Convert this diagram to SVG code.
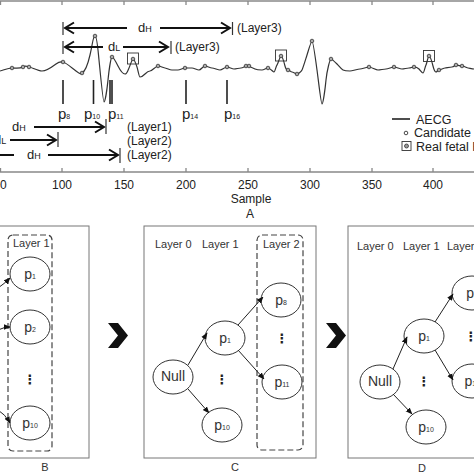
<svg xmlns="http://www.w3.org/2000/svg" width="474" height="474" viewBox="0 0 474 474">
<style>
text{font-family:"Liberation Sans",Arial,sans-serif;fill:#222}
.tick{font-size:12px;fill:#444}
.lab{font-size:12px;fill:#222}
.ax{stroke:#888;stroke-width:1.3;fill:none}
.ecg{stroke:#333;stroke-width:1.2;fill:none}
.cand{fill:#aaa;stroke:#333;stroke-width:0.8}
.box{fill:none;stroke:#333;stroke-width:0.9}
.arr{stroke:#111;stroke-width:2;fill:none}
.bar{stroke:#333;stroke-width:1.2}
.mk{stroke:#222;stroke-width:1.6}
.frame{fill:#fff;stroke:#777;stroke-width:1}
.dash{fill:none;stroke:#444;stroke-width:1.2;stroke-dasharray:6 3}
.node{fill:#fff;stroke:#333;stroke-width:1}
.edge{stroke:#222;stroke-width:1;fill:none;marker-end:url(#ah)}
.nt{font-size:14px;text-anchor:middle;fill:#333}
.dots{font-family:"DejaVu Sans",sans-serif;font-size:13px;font-weight:bold;text-anchor:middle;fill:#222}
.lt{font-size:11px;fill:#333}
</style>
<defs>
<marker id="ah" viewBox="0 0 10 10" refX="9" refY="5" markerWidth="7" markerHeight="7" orient="auto" markerUnits="userSpaceOnUse">
<path d="M0,1 L10,5 L0,9 z" fill="#111"/>
</marker>
</defs>
<rect width="474" height="474" fill="#fff"/>

<g id="plotA">
<line class="ax" x1="0" y1="1" x2="474" y2="1"/>
<line class="ax" x1="0" y1="172" x2="474" y2="172"/>
<path class="ax" d="M0.5,1v4M62,1v4M124,1v4M186,1v4M248,1v4M310,1v4M372,1v4M433,1v4M0.5,172v-4M62,172v-4M124,172v-4M186,172v-4M248,172v-4M310,172v-4M372,172v-4M433,172v-4"/>
<g class="tick" text-anchor="middle">
<text x="0" y="189">50</text>
<text x="62" y="189">100</text>
<text x="124" y="189">150</text>
<text x="186" y="189">200</text>
<text x="248" y="189">250</text>
<text x="310" y="189">300</text>
<text x="372" y="189">350</text>
<text x="433" y="189">400</text>
<text x="251" y="203">Sample</text>
<text x="250" y="218">A</text>
</g>

<path class="ecg" d="M0,71 C4,70 8,68 12,68 S19,69 23,67 S27,67 29,67 S38,71 42,71 S52,67 56,64 S61,62 63,62 S72,68 76,71 S80,74 82,73 S87,68 90,55 S93,36 95,36 S98,50 99,60 S103,102 104,102 S107,90 108,80 S111,57 112,57 S116,62 118,66 S123,74 125,74 S128,70 129,68 S132,59 133,59 S136,64 137,67 S139,77 140,77 S144,75 145,74 S148,71 150,71 S156,66 158,66 S164,68 165,68 S170,70 172,70 S176,70 178,70 S183,68 185,68 S190,68 192,68 S197,70 199,70 S203,66 205,66 S210,68 212,68 S218,70 220,70 S225,67 227,67 S232,69 234,69 S239,68 241,68 S245,66 247,66 S253,68 255,69 S260,70 262,70 S266,68 268,68 S273,72 274,72 S276,66 277,65 S280,56 281,56 S284,62 285,66 S287,70 288,70 S291,72 292,72 S296,74 297,74 S301,72 302,70 S306,58 307,55 S311,41 312,41 S315,55 317,70 S321,104 322,104 S325,90 326,80 S330,59 331,59 S335,62 337,64 S341,69 343,70 S348,71 350,71 S358,69 360,69 S367,67 369,67 S376,70 378,70 S384,69 386,69 S392,67 394,67 S400,69 402,69 S407,68 409,68 S412,67 414,67 S418,68 419,69 S422,73 423,73 S425,67 426,65 S428,56 429,56 S432,62 433,66 S435,72 436,72 S438,70 439,70 S444,68 445,68 S450,67 452,67 S455,65 456,65 S460,66 462,66 S467,68 468,68 S472,69 474,69"/>

<g id="cands">
<circle class="cand" cx="12" cy="68" r="1.8"/>
<circle class="cand" cx="23" cy="67" r="1.8"/>
<circle class="cand" cx="29" cy="67" r="1.8"/>
<circle class="cand" cx="63" cy="62" r="1.8"/>
<circle class="cand" cx="82" cy="73" r="1.8"/>
<circle class="cand" cx="95" cy="36" r="1.8"/>
<circle class="cand" cx="112" cy="57" r="1.8"/>
<circle class="cand" cx="133" cy="59" r="1.8"/>
<circle class="cand" cx="158" cy="66" r="1.8"/>
<circle class="cand" cx="185" cy="68" r="1.8"/>
<circle class="cand" cx="205" cy="66" r="1.8"/>
<circle class="cand" cx="227" cy="67" r="1.8"/>
<circle class="cand" cx="246" cy="66" r="1.8"/>
<circle class="cand" cx="249" cy="66" r="1.8"/>
<circle class="cand" cx="268" cy="68" r="1.8"/>
<circle class="cand" cx="281" cy="56" r="1.8"/>
<circle class="cand" cx="288" cy="70" r="1.8"/>
<circle class="cand" cx="297" cy="74" r="1.8"/>
<circle class="cand" cx="312" cy="41" r="1.8"/>
<circle class="cand" cx="331" cy="59" r="1.8"/>
<circle class="cand" cx="369" cy="67" r="1.8"/>
<circle class="cand" cx="394" cy="67" r="1.8"/>
<circle class="cand" cx="414" cy="67" r="1.8"/>
<circle class="cand" cx="429" cy="56" r="1.8"/>
<circle class="cand" cx="439" cy="70" r="1.8"/>
<circle class="cand" cx="456" cy="65" r="1.8"/>
<circle class="cand" cx="462" cy="66" r="1.8"/>
<rect class="box" x="127.5" y="53" width="11" height="11"/>
<rect class="box" x="275.5" y="50" width="11" height="11"/>
<rect class="box" x="423.5" y="50.5" width="11" height="11"/>
</g>

<g id="markers">
<line class="mk" x1="63" y1="80" x2="63" y2="104"/>
<line class="mk" x1="93.5" y1="80" x2="93.5" y2="104"/>
<line class="mk" x1="110" y1="80" x2="110" y2="104"/>
<line class="mk" x1="112" y1="80" x2="112" y2="104"/>
<line class="mk" x1="186" y1="80" x2="186" y2="104"/>
<line class="mk" x1="227" y1="80" x2="227" y2="104"/>
<text x="58" y="119" font-size="15">p<tspan font-size="7">8</tspan></text>
<text x="84" y="119" font-size="15">p<tspan font-size="7">10</tspan></text>
<text x="108" y="119" font-size="15">p<tspan font-size="7">11</tspan></text>
<text x="182" y="119" font-size="15">p<tspan font-size="7">14</tspan></text>
<text x="224" y="119" font-size="15">p<tspan font-size="7">16</tspan></text>
</g>

<g id="dist">
<path class="arr" d="M65,28H127M160,28H230M74,22.5L65,28L74,33.5M221,22.5L230,28L221,33.5"/>
<line class="bar" x1="63" y1="22" x2="63" y2="35"/>
<line class="bar" x1="232.5" y1="22" x2="232.5" y2="35"/>
<text x="138" y="32" font-size="13">d<tspan font-size="9">H</tspan></text>
<text x="237" y="32" class="lab">(Layer3)</text>

<path class="arr" d="M65,47H103M123,47H168M74,41.5L65,47L74,52.5M159,41.5L168,47L159,52.5"/>
<line class="bar" x1="63" y1="41" x2="63" y2="54"/>
<line class="bar" x1="171" y1="41" x2="171" y2="54"/>
<text x="108" y="51" font-size="13">d<tspan font-size="9">L</tspan></text>
<text x="175" y="51" class="lab">(Layer3)</text>

<path class="arr" d="M34,127H104M95,121.5L104,127L95,132.5"/>
<line class="bar" x1="106" y1="119" x2="106" y2="134"/>
<text x="12" y="131" font-size="13">d<tspan font-size="9">H</tspan></text>
<text x="127" y="131" class="lab">(Layer1)</text>

<path class="arr" d="M10,140H56M47,134.5L56,140L47,145.5"/>
<line class="bar" x1="58" y1="132" x2="58" y2="147"/>
<text x="-6" y="144" font-size="13">d<tspan font-size="9">L</tspan></text>
<text x="127" y="145" class="lab">(Layer2)</text>

<path class="arr" d="M0,155H14M48,155H118M109,149.5L118,155L109,160.5"/>
<line class="bar" x1="120" y1="148" x2="120" y2="163"/>
<text x="27" y="159" font-size="13">d<tspan font-size="9">H</tspan></text>
<text x="127" y="159" class="lab">(Layer2)</text>
</g>

<g id="legend">
<line x1="392" y1="119" x2="410" y2="119" stroke="#222" stroke-width="1.6"/>
<text x="416" y="124" font-size="12.5">AECG</text>
<circle cx="406" cy="133" r="1.8" fill="#fff" stroke="#333" stroke-width="0.9"/>
<text x="414" y="137" font-size="12.5">Candidate peaks</text>
<rect x="402" y="141.5" width="9" height="9" fill="none" stroke="#333" stroke-width="0.9"/>
<circle cx="406.5" cy="146" r="2" fill="#999" stroke="#333" stroke-width="0.8"/>
<text x="416" y="151" font-size="12.5">Real  fetal R peaks</text>
</g>
</g>

<g id="panelB">
<rect class="frame" x="-5" y="226" width="94" height="232"/>
<rect class="dash" x="8" y="235" width="44" height="216" rx="5"/>
<text x="13" y="247" class="lt">Layer 1</text>
<text x="45" y="471" class="lt" text-anchor="middle">B</text>
</g>
<g id="B_p1"><ellipse class="node" cx="30" cy="274" rx="20" ry="17"/><text class="nt" x="30" y="279">p<tspan font-size="7">1</tspan></text></g>
<g id="B_p2"><ellipse class="node" cx="30" cy="327" rx="20" ry="17"/><text class="nt" x="30" y="332">p<tspan font-size="7">2</tspan></text></g>
<g id="B_dots"><text class="dots" x="30" y="384">⋮</text></g>
<g id="B_p10"><ellipse class="node" cx="30" cy="423" rx="20" ry="17"/><text class="nt" x="30" y="428">p<tspan font-size="7">10</tspan></text></g>

<g id="chev1"><path d="M108,323 L118,323 L128,335.5 L118,348 L108,348 L118,335.5 z" fill="#111"/></g>
<g id="chev2"><path d="M326,323 L336,323 L346,335.5 L336,348 L326,348 L336,335.5 z" fill="#111"/></g>

<g id="panelC">
<rect class="frame" x="144" y="226" width="172" height="232"/>
<rect class="dash" x="257" y="235" width="46" height="215" rx="5"/>
<text x="155" y="248" class="lt">Layer 0</text>
<text x="202" y="248" class="lt">Layer 1</text>
<text x="263" y="248" class="lt">Layer 2</text>
<text x="235" y="471" class="lt" text-anchor="middle">C</text>
</g>
<g id="C_null"><ellipse class="node" cx="173" cy="377" rx="20" ry="17"/><text class="nt" x="173" y="381" font-size="11">Null</text></g>
<g id="C_p1"><ellipse class="node" cx="225" cy="338" rx="20" ry="17"/><text class="nt" x="225" y="343">p<tspan font-size="7">1</tspan></text></g>
<g id="C_dots"><text class="dots" x="222" y="384">⋮</text></g>
<g id="C_p10"><ellipse class="node" cx="222" cy="425" rx="20" ry="17"/><text class="nt" x="222" y="430">p<tspan font-size="7">10</tspan></text></g>
<g id="C_p8"><ellipse class="node" cx="281" cy="300" rx="20" ry="17"/><text class="nt" x="281" y="305">p<tspan font-size="7">8</tspan></text></g>
<g id="C_dots2"><text class="dots" x="282" y="343">⋮</text></g>
<g id="C_p11"><ellipse class="node" cx="282" cy="382" rx="20" ry="17"/><text class="nt" x="282" y="387">p<tspan font-size="7">11</tspan></text></g>

<g id="panelD">
<rect class="frame" x="348" y="226" width="140" height="232"/>
<text x="357" y="250" class="lt">Layer 0</text>
<text x="403" y="250" class="lt">Layer 1</text>
<text x="447" y="250" class="lt">Layer 2</text>
<text x="422" y="472" class="lt" text-anchor="middle">D</text>
</g>
<g id="D_null"><ellipse class="node" cx="380" cy="382" rx="20" ry="17"/><text class="nt" x="380" y="386" font-size="11">Null</text></g>
<g id="D_p1"><ellipse class="node" cx="424" cy="336" rx="20" ry="17"/><text class="nt" x="424" y="341">p<tspan font-size="7">1</tspan></text></g>
<g id="D_dots"><text class="dots" x="424" y="386">⋮</text></g>
<g id="D_p10"><ellipse class="node" cx="426" cy="427" rx="20" ry="17"/><text class="nt" x="426" y="432">p<tspan font-size="7">10</tspan></text></g>
<g id="D_p8"><ellipse class="node" cx="472" cy="293" rx="20" ry="17"/><text class="nt" x="472" y="298">p<tspan font-size="7">8</tspan></text></g>
<g id="D_dots2"><text class="dots" x="471" y="341">⋮</text></g>
<g id="D_p11"><ellipse class="node" cx="472" cy="381" rx="20" ry="17"/><text class="nt" x="472" y="386">p<tspan font-size="7">11</tspan></text></g>

<g id="connectors">
<path class="edge" d="M-2,288 Q4,284 10,278"/>
<path class="edge" d="M-2,330 Q4,327 10,327"/>
<path class="edge" d="M-2,410 Q5,414 10,423"/>
<path class="edge" d="M188,365 L207,333"/>
<path class="edge" d="M188,389 L209,413"/>
<path class="edge" d="M238,325 L263,297"/>
<path class="edge" d="M238,350 L264,379"/>
<path class="edge" d="M393,369 L407,337"/>
<path class="edge" d="M393,394 L412,414"/>
<path class="edge" d="M435,322 L453,294"/>
<path class="edge" d="M435,350 L453,380"/>
</g>
</svg>
